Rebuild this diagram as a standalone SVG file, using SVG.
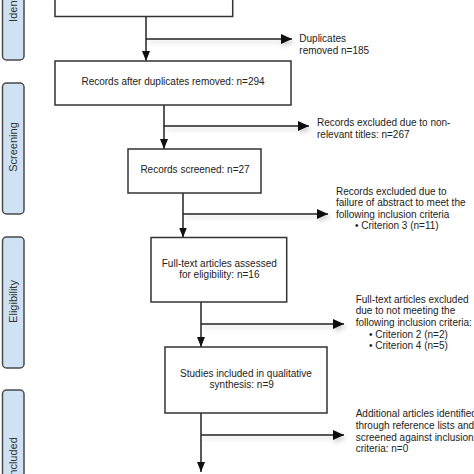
<svg xmlns="http://www.w3.org/2000/svg" width="474" height="474" viewBox="0 0 474 474">
<style>
.box{fill:#fff;stroke:#333;stroke-width:1.5}
.tab{fill:#cfe2f3;stroke:#4a4a4a;stroke-width:1.5}
.t{font-family:"Liberation Sans",Arial,sans-serif;font-size:10px;fill:#222}
.tt{font-family:"Liberation Sans",Arial,sans-serif;font-size:11px;fill:#333}
.ln{stroke:#222;stroke-width:1.5;fill:none}
.hl{stroke:#222;stroke-width:1.5;fill:none;filter:url(#sh)}
</style>
<defs>
<marker id="ah" markerUnits="userSpaceOnUse" markerWidth="14" markerHeight="14" viewBox="0 0 14 14" refX="12" refY="7" orient="auto">
<path d="M1,2 L12,7 L1,12 Z" fill="#111"/>
</marker>
<marker id="av" markerUnits="userSpaceOnUse" markerWidth="12" markerHeight="12" viewBox="0 0 12 12" refX="10" refY="6" orient="auto">
<path d="M0,2 L10,6 L0,10 Z" fill="#111"/>
</marker>
<filter id="sh" filterUnits="userSpaceOnUse" x="0" y="0" width="474" height="474">
<feDropShadow dx="2" dy="3" stdDeviation="2" flood-color="#000" flood-opacity="0.18"/>
</filter>
</defs>

<g id="tab-identification">
<rect class="tab" x="2.5" y="-71" width="21.5" height="131" rx="4"/>
<text class="tt" transform="translate(13,-9) rotate(-90)" text-anchor="middle" dominant-baseline="central">Identification</text>
</g>
<g id="tab-screening">
<rect class="tab" x="2.5" y="83" width="21.5" height="131" rx="4"/>
<text class="tt" transform="translate(13,147) rotate(-90)" text-anchor="middle" dominant-baseline="central">Screening</text>
</g>
<g id="tab-eligibility">
<rect class="tab" x="2.5" y="237" width="21.5" height="131" rx="4"/>
<text class="tt" transform="translate(13,301.5) rotate(-90)" text-anchor="middle" dominant-baseline="central">Eligibility</text>
</g>
<g id="tab-included">
<rect class="tab" x="2.5" y="390" width="21.5" height="131" rx="4"/>
<text class="tt" transform="translate(13,458) rotate(-90)" text-anchor="middle" dominant-baseline="central">Included</text>
</g>

<g id="connectors">
<line class="hl" x1="146" y1="39" x2="292" y2="39" marker-end="url(#ah)"/>
<line class="hl" x1="164" y1="126" x2="309" y2="126" marker-end="url(#ah)"/>
<line class="hl" x1="183" y1="214" x2="328" y2="214" marker-end="url(#ah)"/>
<line class="hl" x1="201" y1="324" x2="344" y2="324" marker-end="url(#ah)"/>
<line class="hl" x1="201" y1="435" x2="344" y2="435" marker-end="url(#ah)"/>
<line class="ln" x1="146" y1="16.5" x2="146" y2="61" marker-end="url(#av)"/>
<line class="ln" x1="164" y1="105" x2="164" y2="149" marker-end="url(#av)"/>
<line class="ln" x1="183" y1="193" x2="183" y2="237.5" marker-end="url(#av)"/>
<line class="ln" x1="201" y1="302" x2="201" y2="347" marker-end="url(#av)"/>
<line class="ln" x1="201" y1="413" x2="201" y2="472" marker-end="url(#av)"/>
</g>

<g id="node-records-identified">
<rect class="box" x="55" y="-20" width="177.7" height="36.5"/>
</g>
<g id="node-after-duplicates">
<rect class="box" x="55" y="61" width="236" height="44"/>
<text class="t" x="173" y="84.5" text-anchor="middle">Records after duplicates removed: n=294</text>
</g>
<g id="node-screened">
<rect class="box" x="128" y="149" width="133" height="44"/>
<text class="t" x="195" y="172.5" text-anchor="middle">Records screened: n=27</text>
</g>
<g id="node-fulltext">
<rect class="box" x="151" y="237.5" width="135.7" height="64.5"/>
<text class="t" x="219.3" y="266.5" text-anchor="middle">Full-text articles assessed</text>
<text class="t" x="219.3" y="278" text-anchor="middle">for eligibility: n=16</text>
</g>
<g id="node-included">
<rect class="box" x="165" y="347" width="162" height="66"/>
<text class="t" x="246" y="377.2" text-anchor="middle">Studies included in qualitative</text>
<text class="t" x="241.7" y="388.2" text-anchor="middle">synthesis: n=9</text>
</g>

<g id="node-duplicates-removed">
<text class="t" x="299.3" y="41.8">Duplicates</text>
<text class="t" x="299.3" y="53.5">removed n=185</text>
</g>
<g id="node-excluded-titles">
<text class="t" x="317" y="126.2">Records excluded due to non-</text>
<text class="t" x="317" y="137.8">relevant titles: n=267</text>
</g>
<g id="node-excluded-abstract">
<text class="t" x="336" y="194.5">Records excluded due to</text>
<text class="t" x="336" y="206">failure of abstract to meet the</text>
<text class="t" x="336" y="217.7">following inclusion criteria</text>
<text class="t" x="355" y="229">• Criterion 3 (n=11)</text>
</g>
<g id="node-excluded-fulltext">
<text class="t" x="355.7" y="302.5">Full-text articles excluded</text>
<text class="t" x="355.7" y="314.2">due to not meeting the</text>
<text class="t" x="355.7" y="325.9">following inclusion criteria:</text>
<text class="t" x="369" y="337.6">• Criterion 2 (n=2)</text>
<text class="t" x="369" y="349.3">• Criterion 4 (n=5)</text>
</g>
<g id="node-additional">
<text class="t" x="355.7" y="417.2">Additional articles identified</text>
<text class="t" x="355.7" y="428.8">through reference lists and</text>
<text class="t" x="355.7" y="440.5">screened against inclusion</text>
<text class="t" x="355.7" y="452.2">criteria: n=0</text>
</g>
</svg>
